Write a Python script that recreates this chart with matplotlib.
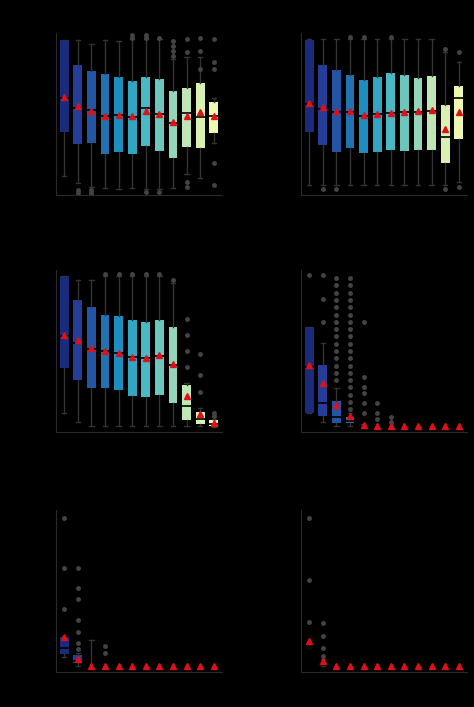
import numpy as np
import matplotlib
matplotlib.use("Agg")
import matplotlib.pyplot as plt

# per panel: q3, q1, median, mean, whisker hi, whisker lo, fliers (values on 0-100 scale)
p1_q3 = [95.7, 80, 76.5, 74.7, 72.8, 70.4, 72.8, 71.6, 64.2, 66, 69, 57.5]
p1_q1 = [38.9, 31.5, 32, 25.3, 26.5, 25.3, 30, 27, 22.6, 29.6, 28.8, 38.3]
p1_med = [60, 53.7, 52.5, 48.8, 49.4, 48, 53.7, 50, 44.3, 50.6, 48, 48.8]
p1_mean = [60.5, 55, 52, 49, 49.5, 48.5, 51.8, 50, 45, 48.8, 51, 49]
p1_hi = [95.7, 95.7, 93, 95.7, 95, 96, 96, 96, 84, 85, 85, 60]
p1_lo = [11.7, 7.4, 5, 4.3, 4, 4.3, 4, 4, 4.3, 13, 10.5, 32]
p1_fl = [[], [3, 1.5], [3, 1.5, 0.5], [], [], [97, 98.5], [97, 98.5, 2], [97, 2],
         [86, 89, 92, 95], [88, 96, 8, 5], [97, 89, 78], [96, 82, 78, 20, 6]]

p2_q3 = [95.7, 80, 77, 74, 71, 72.8, 75.3, 74, 72.2, 73.5, 55.6, 67.3]
p2_q1 = [38.9, 30.9, 26.5, 29, 25.9, 26.5, 27.8, 27.2, 27.8, 27.8, 19.8, 34.6]
p2_med = [56, 53, 51, 51, 49, 50, 50.5, 51, 51, 52, 36, 60]
p2_mean = [56.8, 54.3, 51.8, 51.8, 49.4, 50, 50.6, 51.2, 51.8, 52.5, 40.7, 51.2]
p2_hi = [96, 96, 96, 96, 96, 96, 96, 96, 96, 96, 88, 82]
p2_lo = [6, 6, 6, 6, 6, 6, 6, 6, 6, 6, 6, 8]
p2_fl = [[], [4], [4], [97.5], [97.5], [], [97.5], [], [], [], [90, 4], [88, 5]]

p3_q3 = [96.3, 81.5, 77.2, 72.2, 71.6, 69.1, 67.9, 69.1, 64.8, 29, 12.3, 7.4]
p3_q1 = [39.5, 32, 27.2, 27.2, 25.9, 22.2, 21.6, 22.8, 17.9, 7.4, 4.9, 3.7]
p3_med = [59, 55, 51, 50, 48.5, 46, 45.5, 47, 41.5, 16, 8, 5]
p3_mean = [59.9, 56.8, 51.8, 50, 48.8, 46.3, 45.7, 47.5, 42, 22.2, 11.1, 5.6]
p3_hi = [96, 94, 94, 96, 96, 96, 96, 96, 92, 30, 15, 8]
p3_lo = [12, 6, 4, 4, 4, 4, 4, 4, 4, 4, 3.7, 3]
p3_fl = [[], [], [], [97.5], [97.5], [97.5], [97.5], [97.5], [94],
         [40, 50, 60, 70], [25, 35, 48], [10, 12]]

p4_q3 = [64.8, 41.4, 19.1, 9.3, 4.5, 4, 4, 4, 4, 4, 4, 4]
p4_q1 = [11.7, 9.9, 5.6, 5.6, 3.7, 3.7, 3.7, 3.7, 3.7, 3.7, 3.7, 3.7]
p4_med = [40, 17.9, 9.3, 7, 4, 3.8, 3.8, 3.8, 3.8, 3.8, 3.8, 3.8]
p4_mean = [41.4, 30.2, 16.7, 9.9, 4.3, 4, 4, 4, 4, 4, 4, 4]
p4_hi = [64.8, 55, 27, 12, 5, 4, 4, 4, 4, 4, 4, 4]
p4_lo = [11.7, 6, 4, 4, 3.7, 3.7, 3.7, 3.7, 3.7, 3.7, 3.7, 3.7]
p4_fl = [[97], [97, 82, 68], list(np.arange(32, 96, 4.5)), list(np.arange(14, 98, 4.5)),
         [12, 18, 24, 28, 34, 68], [8, 12, 18], [6, 9], [], [], [], [], []]

p5_q3 = [21.5, 10.4, 4, 3.7, 3.7, 3.7, 3.7, 3.7, 3.7, 3.7, 3.7, 3.7]
p5_q1 = [11, 5.5, 3.5, 3.5, 3.5, 3.5, 3.5, 3.5, 3.5, 3.5, 3.5, 3.5]
p5_med = [15, 7, 3.7, 3.6, 3.6, 3.6, 3.6, 3.6, 3.6, 3.6, 3.6, 3.6]
p5_mean = [21.5, 8, 4, 3.7, 3.7, 3.7, 3.7, 3.7, 3.7, 3.7, 3.7, 3.7]
p5_hi = [21.5, 12, 20, 3.7, 3.7, 3.7, 3.7, 3.7, 3.7, 3.7, 3.7, 3.7]
p5_lo = [9, 4, 3, 3.5, 3.5, 3.5, 3.5, 3.5, 3.5, 3.5, 3.5, 3.5]
p5_fl = [[95, 64, 39], [64, 52, 45, 32, 25, 18, 14], [], [16, 12], [], [], [], [], [], [], [], []]

p6_q3 = [15.3, 5, 3.8, 3.7, 3.7, 3.7, 3.7, 3.7, 3.7, 3.7, 3.7, 3.7]
p6_q1 = [14.7, 4, 3.5, 3.5, 3.5, 3.5, 3.5, 3.5, 3.5, 3.5, 3.5, 3.5]
p6_med = [15, 4.5, 3.6, 3.6, 3.6, 3.6, 3.6, 3.6, 3.6, 3.6, 3.6, 3.6]
p6_mean = [19, 6.7, 3.8, 3.7, 3.7, 3.7, 3.7, 3.7, 3.7, 3.7, 3.7, 3.7]
p6_hi = [15.3, 8, 3.8, 3.7, 3.7, 3.7, 3.7, 3.7, 3.7, 3.7, 3.7, 3.7]
p6_lo = [14.7, 3.5, 3.5, 3.5, 3.5, 3.5, 3.5, 3.5, 3.5, 3.5, 3.5, 3.5]
p6_fl = [[95, 57, 31], [30, 22, 15, 10], [], [], [], [], [], [], [], [], [], []]

panels = [
    (p1_q3, p1_q1, p1_med, p1_mean, p1_hi, p1_lo, p1_fl),
    (p2_q3, p2_q1, p2_med, p2_mean, p2_hi, p2_lo, p2_fl),
    (p3_q3, p3_q1, p3_med, p3_mean, p3_hi, p3_lo, p3_fl),
    (p4_q3, p4_q1, p4_med, p4_mean, p4_hi, p4_lo, p4_fl),
    (p5_q3, p5_q1, p5_med, p5_mean, p5_hi, p5_lo, p5_fl),
    (p6_q3, p6_q1, p6_med, p6_mean, p6_hi, p6_lo, p6_fl),
]

W, H = 474, 707
fig = plt.figure(figsize=(W / 100, H / 100), dpi=100, facecolor='black')
lefts = [56, 301]
tops = [33, 270, 510]
colors = plt.cm.YlGnBu(np.linspace(0.92, 0.12, 12))

for k, (q3, q1, med, mean, hi, lo, fl) in enumerate(panels):
    r, c = divmod(k, 2)
    ax = fig.add_axes([lefts[c] / W, 1 - (tops[r] + 162) / H, 166 / W, 162 / H])
    ax.set_facecolor('black')
    stats = [dict(q1=q1[i], med=med[i], q3=q3[i], mean=mean[i], whislo=lo[i],
                  whishi=hi[i], fliers=fl[i]) for i in range(12)]
    bp = ax.bxp(stats, showmeans=True, patch_artist=True, widths=0.65,
                boxprops=dict(linewidth=0),
                medianprops=dict(color='black', linewidth=1.2),
                whiskerprops=dict(color='#333333', linewidth=1),
                capprops=dict(color='#333333', linewidth=1),
                flierprops=dict(marker='o', markersize=2.5, markerfacecolor='#444444',
                                markeredgecolor='#444444'),
                meanprops=dict(marker='^', markersize=4.5, markerfacecolor='#e0101a',
                               markeredgecolor='#e0101a'))
    for patch, col in zip(bp['boxes'], colors):
        patch.set_facecolor(col)
    ax.set_ylim(0, 100)
    ax.set_xlim(0.4, 12.6)
    for s in ['top', 'right']:
        ax.spines[s].set_visible(False)
    for s in ['left', 'bottom']:
        ax.spines[s].set_color('#2a2a2a')
    ax.tick_params(colors='black', labelcolor='black', labelsize=7)

fig.savefig('out.png', dpi=100, facecolor='black')
